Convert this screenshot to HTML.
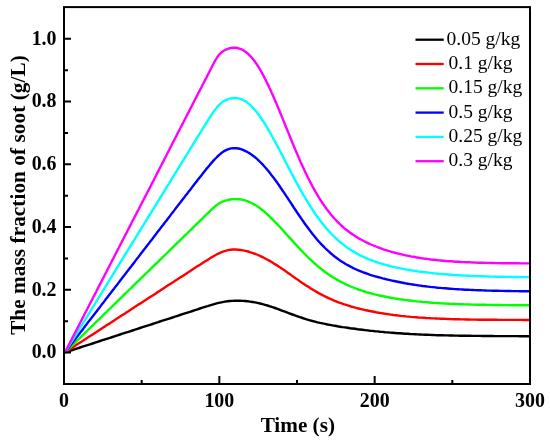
<!DOCTYPE html>
<html><head><meta charset="utf-8"><style>
html,body{margin:0;padding:0;background:#fff;}
body{width:550px;height:443px;overflow:hidden;}
svg{display:block;}
.t{font-family:"Liberation Serif","Times New Roman",serif;font-weight:bold;font-size:19.9px;fill:#000;}
.ti{font-family:"Liberation Serif","Times New Roman",serif;font-weight:bold;font-size:21.2px;fill:#000;}
.lg{font-family:"Liberation Serif","Times New Roman",serif;font-weight:normal;font-size:19.5px;fill:#000;}
</style></head><body>
<svg width="550" height="443" viewBox="0 0 550 443">

<g fill="none" stroke-width="2.4" stroke-linejoin="round" stroke-linecap="butt">
<path stroke="#000000" d="M65.0,352.4 67.5,351.6 70.0,350.8 72.5,350.0 75.0,349.2 77.5,348.3 80.0,347.5 82.5,346.7 85.0,345.9 87.5,345.1 90.0,344.3 92.5,343.5 95.0,342.7 97.5,341.8 100.0,341.0 102.5,340.2 105.0,339.4 107.5,338.6 110.0,337.8 112.5,337.0 115.0,336.2 117.5,335.3 120.0,334.5 122.5,333.7 125.0,332.9 127.5,332.1 130.0,331.3 132.5,330.5 135.0,329.7 137.5,328.8 140.0,328.0 142.5,327.2 145.0,326.4 147.5,325.6 150.0,324.8 152.5,324.0 155.0,323.2 157.5,322.3 160.0,321.5 162.5,320.7 165.0,319.9 167.5,319.1 170.0,318.3 172.5,317.5 175.0,316.7 177.5,315.8 180.0,315.0 182.5,314.2 185.0,313.4 187.5,312.6 190.0,311.8 192.5,311.0 195.0,310.2 197.5,309.4 200.0,308.5 202.5,307.7 205.0,306.9 207.5,306.2 210.0,305.4 212.5,304.6 215.0,303.9 217.5,303.2 220.0,302.6 222.5,302.1 225.0,301.6 227.5,301.3 230.0,301.0 232.5,300.9 235.0,300.8 237.5,300.7 240.0,300.8 242.5,300.9 245.0,301.0 247.5,301.3 250.0,301.6 252.5,302.0 255.0,302.4 257.5,302.9 260.0,303.5 262.5,304.1 265.0,304.8 267.5,305.5 270.0,306.3 272.5,307.1 275.0,308.0 277.5,308.9 280.0,309.8 282.5,310.8 285.0,311.7 287.5,312.7 290.0,313.6 292.5,314.5 295.0,315.4 297.5,316.3 300.0,317.2 302.5,318.0 305.0,318.8 307.5,319.6 310.0,320.3 312.5,321.0 315.0,321.6 317.5,322.3 320.0,322.9 322.5,323.4 325.0,323.9 327.5,324.5 330.0,324.9 332.5,325.4 335.0,325.8 337.5,326.3 340.0,326.7 342.5,327.1 345.0,327.4 347.5,327.8 350.0,328.2 352.5,328.5 355.0,328.8 357.5,329.2 360.0,329.5 362.5,329.8 365.0,330.1 367.5,330.4 370.0,330.7 372.5,330.9 375.0,331.2 377.5,331.4 380.0,331.7 382.5,331.9 385.0,332.2 387.5,332.4 390.0,332.6 392.5,332.8 395.0,333.0 397.5,333.2 400.0,333.3 402.5,333.5 405.0,333.7 407.5,333.8 410.0,334.0 412.5,334.1 415.0,334.2 417.5,334.4 420.0,334.5 422.5,334.6 425.0,334.7 427.5,334.8 430.0,334.9 432.5,335.0 435.0,335.1 437.5,335.2 440.0,335.2 442.5,335.3 445.0,335.4 447.5,335.4 450.0,335.5 452.5,335.5 455.0,335.6 457.5,335.6 460.0,335.7 462.5,335.7 465.0,335.8 467.5,335.8 470.0,335.8 472.5,335.9 475.0,335.9 477.5,335.9 480.0,335.9 482.5,336.0 485.0,336.0 487.5,336.0 490.0,336.0 492.5,336.0 495.0,336.1 497.5,336.1 500.0,336.1 502.5,336.1 505.0,336.1 507.5,336.1 510.0,336.1 512.5,336.1 515.0,336.1 517.5,336.1 520.0,336.2 522.5,336.2 525.0,336.2 527.5,336.2 530.0,336.2"/>
<path stroke="#FF0000" d="M65.0,352.4 67.2,350.9 69.5,349.5 71.7,348.0 74.0,346.6 76.2,345.1 78.5,343.6 80.7,342.2 83.0,340.7 85.2,339.2 87.5,337.8 89.7,336.3 92.0,334.9 94.2,333.4 96.5,331.9 98.7,330.5 101.0,329.0 103.2,327.5 105.5,326.1 107.7,324.6 110.0,323.2 112.2,321.7 114.5,320.2 116.7,318.8 119.0,317.3 121.2,315.8 123.5,314.4 125.7,312.9 128.0,311.5 130.2,310.0 132.5,308.5 134.7,307.1 137.0,305.6 139.2,304.1 141.5,302.7 143.7,301.2 146.0,299.8 148.2,298.3 150.5,296.8 152.7,295.4 155.0,293.9 157.2,292.4 159.5,291.0 161.7,289.5 164.0,288.1 166.2,286.6 168.5,285.1 170.7,283.7 173.0,282.2 175.2,280.7 177.5,279.3 179.7,277.8 182.0,276.4 184.2,274.9 186.5,273.4 188.7,272.0 191.0,270.5 193.2,269.1 195.5,267.6 197.7,266.1 200.0,264.7 202.2,263.3 204.5,261.8 206.7,260.4 209.0,259.0 211.2,257.6 213.5,256.3 215.7,255.0 218.0,253.8 220.5,252.6 223.0,251.6 225.5,250.8 228.0,250.1 230.5,249.7 233.0,249.5 235.5,249.5 238.0,249.7 240.5,250.0 243.0,250.4 245.5,250.9 248.0,251.5 250.5,252.3 253.0,253.1 255.5,254.0 258.0,255.0 260.5,256.1 263.0,257.3 265.2,258.5 267.5,259.7 269.7,260.9 272.0,262.3 274.2,263.7 276.5,265.1 278.7,266.6 281.0,268.1 283.2,269.6 285.5,271.1 287.7,272.7 290.0,274.3 292.2,275.9 294.5,277.5 296.7,279.1 299.0,280.6 301.2,282.2 303.5,283.7 305.7,285.2 308.0,286.6 310.2,288.1 312.5,289.5 314.7,290.8 317.0,292.1 319.2,293.4 321.5,294.6 323.7,295.7 326.0,296.9 328.5,298.1 331.0,299.2 333.5,300.3 336.0,301.3 338.5,302.3 341.0,303.2 343.5,304.1 346.0,304.9 348.5,305.7 351.0,306.5 353.5,307.2 356.0,307.9 358.5,308.5 361.0,309.1 363.5,309.7 366.0,310.3 368.5,310.8 371.0,311.3 373.5,311.8 376.0,312.3 378.5,312.7 381.0,313.1 383.5,313.5 386.0,313.9 388.5,314.3 391.0,314.6 393.5,315.0 396.0,315.3 398.5,315.6 401.0,315.9 403.5,316.1 406.0,316.4 408.5,316.6 411.0,316.9 413.5,317.1 416.0,317.3 418.5,317.5 421.0,317.6 423.5,317.8 426.0,318.0 428.5,318.1 431.0,318.3 433.5,318.4 436.0,318.5 438.5,318.6 441.0,318.7 443.5,318.8 446.0,318.9 448.5,319.0 451.0,319.1 453.5,319.2 456.0,319.2 458.5,319.3 461.0,319.4 463.5,319.4 466.0,319.5 468.5,319.5 471.0,319.6 473.5,319.6 476.0,319.6 478.5,319.7 481.0,319.7 483.5,319.7 486.0,319.8 488.5,319.8 491.0,319.8 493.5,319.8 496.0,319.8 498.5,319.9 501.0,319.9 503.5,319.9 506.0,319.9 508.5,319.9 511.0,319.9 513.5,319.9 516.0,319.9 518.5,319.9 521.0,319.9 523.5,320.0 526.0,320.0 528.5,320.0 530.0,320.0"/>
<path stroke="#00FF00" d="M65.0,352.4 67.0,350.4 69.0,348.5 71.0,346.5 73.0,344.6 75.0,342.6 77.0,340.7 79.0,338.8 81.0,336.8 83.0,334.9 85.0,332.9 87.0,331.0 89.0,329.0 91.0,327.1 93.0,325.1 95.0,323.2 97.0,321.2 99.0,319.3 101.0,317.3 103.0,315.4 105.0,313.4 107.0,311.5 109.0,309.5 111.0,307.6 113.0,305.6 115.0,303.7 117.0,301.7 119.0,299.8 121.0,297.8 123.0,295.9 125.0,293.9 127.0,292.0 129.0,290.0 131.0,288.1 133.0,286.1 135.0,284.2 137.0,282.2 139.0,280.3 141.0,278.3 143.0,276.4 145.0,274.4 147.0,272.5 149.0,270.6 151.0,268.6 153.0,266.7 155.0,264.7 157.0,262.8 159.0,260.8 161.0,258.9 163.0,256.9 165.0,255.0 167.0,253.0 169.0,251.1 171.0,249.1 173.0,247.1 175.0,245.2 177.0,243.2 179.0,241.3 181.0,239.3 183.0,237.4 185.0,235.4 187.0,233.5 189.0,231.5 191.0,229.6 193.0,227.6 195.0,225.7 197.0,223.7 199.0,221.8 201.0,219.8 203.0,217.9 205.0,215.9 207.0,214.0 209.0,212.1 211.0,210.2 213.0,208.3 215.0,206.5 217.0,204.9 219.2,203.3 221.5,202.1 224.0,201.0 226.5,200.3 229.0,199.7 231.5,199.3 234.0,199.1 236.5,199.1 239.0,199.2 241.5,199.6 244.0,200.1 246.5,200.9 249.0,201.8 251.5,203.0 253.7,204.2 256.0,205.5 258.2,207.0 260.5,208.6 262.5,210.2 264.5,211.8 266.5,213.6 268.5,215.4 270.5,217.3 272.5,219.3 274.5,221.3 276.2,223.1 278.0,225.0 279.7,226.8 281.5,228.7 283.2,230.7 285.0,232.6 286.7,234.5 288.5,236.5 290.2,238.4 292.0,240.4 293.7,242.3 295.5,244.2 297.2,246.1 299.0,248.0 300.7,249.9 302.5,251.7 304.2,253.5 306.2,255.5 308.2,257.5 310.2,259.4 312.2,261.2 314.2,263.0 316.2,264.8 318.2,266.5 320.2,268.1 322.2,269.7 324.2,271.3 326.5,272.9 328.7,274.5 331.0,276.0 333.2,277.4 335.5,278.8 337.7,280.1 340.0,281.4 342.2,282.5 344.5,283.7 347.0,284.9 349.5,286.0 352.0,287.0 354.5,288.0 357.0,289.0 359.5,289.9 362.0,290.7 364.5,291.5 367.0,292.3 369.5,293.0 372.0,293.6 374.5,294.3 377.0,294.9 379.5,295.5 382.0,296.0 384.5,296.5 387.0,297.0 389.5,297.5 392.0,298.0 394.5,298.4 397.0,298.8 399.5,299.2 402.0,299.5 404.5,299.9 407.0,300.2 409.5,300.5 412.0,300.8 414.5,301.1 417.0,301.4 419.5,301.6 422.0,301.9 424.5,302.1 427.0,302.3 429.5,302.5 432.0,302.7 434.5,302.9 437.0,303.0 439.5,303.2 442.0,303.4 444.5,303.5 447.0,303.6 449.5,303.8 452.0,303.9 454.5,304.0 457.0,304.1 459.5,304.2 462.0,304.3 464.5,304.4 467.0,304.4 469.5,304.5 472.0,304.6 474.5,304.6 477.0,304.7 479.5,304.7 482.0,304.8 484.5,304.8 487.0,304.9 489.5,304.9 492.0,305.0 494.5,305.0 497.0,305.0 499.5,305.0 502.0,305.1 504.5,305.1 507.0,305.1 509.5,305.1 512.0,305.2 514.5,305.2 517.0,305.2 519.5,305.2 522.0,305.2 524.5,305.2 527.0,305.2 529.5,305.2 530.0,305.2"/>
<path stroke="#0000FF" d="M65.0,352.4 66.7,350.1 68.5,347.9 70.2,345.6 72.0,343.3 73.7,341.0 75.5,338.8 77.2,336.5 79.0,334.2 80.7,331.9 82.5,329.7 84.2,327.4 86.0,325.1 87.7,322.8 89.5,320.6 91.2,318.3 93.0,316.0 94.7,313.7 96.5,311.5 98.2,309.2 100.0,306.9 101.7,304.6 103.5,302.4 105.2,300.1 107.0,297.8 108.7,295.5 110.5,293.3 112.2,291.0 114.0,288.7 115.7,286.4 117.5,284.2 119.2,281.9 121.0,279.6 122.7,277.3 124.5,275.1 126.2,272.8 128.0,270.5 129.7,268.2 131.5,266.0 133.2,263.7 135.0,261.4 136.7,259.1 138.5,256.9 140.2,254.6 142.0,252.3 143.7,250.0 145.5,247.8 147.2,245.5 149.0,243.2 150.7,240.9 152.5,238.7 154.2,236.4 156.0,234.1 157.7,231.8 159.5,229.6 161.2,227.3 163.0,225.0 164.7,222.7 166.5,220.5 168.2,218.2 170.0,215.9 171.7,213.6 173.5,211.4 175.2,209.1 177.0,206.8 178.7,204.5 180.5,202.3 182.2,200.0 184.0,197.7 185.7,195.4 187.5,193.2 189.2,190.9 191.0,188.7 192.7,186.4 194.5,184.1 196.2,181.9 198.0,179.6 199.7,177.4 201.5,175.2 203.2,173.0 205.0,170.8 206.7,168.6 208.5,166.5 210.2,164.4 212.0,162.4 213.7,160.4 215.5,158.5 217.5,156.5 219.5,154.7 221.5,153.0 223.7,151.4 226.0,150.1 228.5,149.1 231.0,148.4 233.5,148.1 236.0,148.2 238.5,148.5 241.0,149.2 243.5,150.1 246.0,151.3 248.2,152.5 250.5,153.9 252.7,155.5 254.7,157.0 256.7,158.7 258.7,160.6 260.7,162.5 262.5,164.3 264.2,166.2 266.0,168.2 267.7,170.3 269.5,172.4 271.2,174.7 273.0,176.9 274.5,179.0 276.0,181.0 277.5,183.1 279.0,185.3 280.5,187.5 282.0,189.7 283.5,191.9 285.0,194.1 286.5,196.4 288.0,198.7 289.5,200.9 291.0,203.2 292.5,205.5 294.0,207.8 295.5,210.0 297.0,212.3 298.5,214.5 300.0,216.7 301.5,218.9 303.0,221.0 304.5,223.2 306.0,225.3 307.5,227.3 309.0,229.3 310.7,231.6 312.5,233.9 314.2,236.0 316.0,238.2 317.7,240.2 319.5,242.2 321.2,244.1 323.0,245.9 325.0,248.0 327.0,249.9 329.0,251.7 331.0,253.5 333.0,255.2 335.0,256.8 337.0,258.3 339.2,259.9 341.5,261.4 343.7,262.8 346.0,264.2 348.2,265.4 350.5,266.6 352.7,267.8 355.2,269.0 357.7,270.1 360.2,271.1 362.7,272.1 365.2,273.0 367.7,273.9 370.2,274.8 372.7,275.6 375.2,276.3 377.7,277.0 380.2,277.7 382.7,278.4 385.2,279.0 387.7,279.6 390.2,280.2 392.7,280.8 395.2,281.3 397.7,281.8 400.2,282.3 402.7,282.8 405.2,283.3 407.7,283.7 410.2,284.1 412.7,284.5 415.2,284.9 417.7,285.3 420.2,285.6 422.7,286.0 425.2,286.3 427.7,286.6 430.2,286.9 432.7,287.1 435.2,287.4 437.7,287.7 440.2,287.9 442.7,288.1 445.2,288.3 447.7,288.5 450.2,288.7 452.7,288.9 455.2,289.1 457.7,289.2 460.2,289.4 462.7,289.5 465.2,289.7 467.7,289.8 470.2,289.9 472.7,290.0 475.2,290.1 477.7,290.2 480.2,290.3 482.7,290.4 485.2,290.5 487.7,290.6 490.2,290.6 492.7,290.7 495.2,290.7 497.7,290.8 500.2,290.9 502.7,290.9 505.2,291.0 507.7,291.0 510.2,291.0 512.7,291.1 515.2,291.1 517.7,291.1 520.2,291.2 522.7,291.2 525.2,291.2 527.7,291.2 530.0,291.3"/>
<path stroke="#00FFFF" d="M65.0,352.4 66.5,350.0 68.0,347.5 69.5,345.1 71.0,342.7 72.5,340.2 74.0,337.8 75.5,335.3 77.0,332.9 78.5,330.5 80.0,328.0 81.5,325.6 83.0,323.2 84.5,320.7 86.0,318.3 87.5,315.8 89.0,313.4 90.5,311.0 92.0,308.5 93.5,306.1 95.0,303.7 96.5,301.2 98.0,298.8 99.5,296.3 101.0,293.9 102.5,291.5 104.0,289.0 105.5,286.6 107.0,284.2 108.5,281.7 110.0,279.3 111.5,276.8 113.0,274.4 114.5,272.0 116.0,269.5 117.5,267.1 119.0,264.7 120.5,262.2 122.0,259.8 123.5,257.3 125.0,254.9 126.5,252.5 128.0,250.0 129.5,247.6 131.0,245.2 132.5,242.7 134.0,240.3 135.5,237.9 137.0,235.4 138.5,233.0 140.0,230.6 141.5,228.2 143.0,225.7 144.5,223.3 146.0,220.9 147.5,218.4 149.0,216.0 150.5,213.6 152.0,211.1 153.5,208.7 155.0,206.3 156.5,203.8 158.0,201.4 159.5,198.9 161.0,196.5 162.5,194.1 164.0,191.6 165.5,189.2 167.0,186.7 168.5,184.3 170.0,181.9 171.5,179.4 173.0,177.0 174.5,174.5 176.0,172.1 177.5,169.7 179.0,167.2 180.5,164.8 182.0,162.3 183.5,159.9 185.0,157.5 186.5,155.0 188.0,152.6 189.5,150.1 191.0,147.7 192.5,145.3 194.0,142.8 195.5,140.4 197.0,138.0 198.5,135.5 200.0,133.1 201.5,130.7 203.0,128.3 204.5,125.9 206.0,123.5 207.5,121.1 209.0,118.7 210.5,116.4 212.0,114.1 213.5,111.9 215.0,109.9 216.7,107.6 218.5,105.6 220.5,103.6 222.5,102.0 224.7,100.6 227.2,99.5 229.7,98.7 232.2,98.2 234.7,98.0 237.2,98.1 239.7,98.6 242.2,99.5 244.5,100.7 246.7,102.1 248.7,103.7 250.7,105.5 252.7,107.5 254.5,109.5 256.2,111.6 258.0,113.8 259.5,115.8 261.0,118.0 262.5,120.2 264.0,122.5 265.5,124.9 267.0,127.4 268.5,129.9 270.0,132.5 271.2,134.7 272.5,137.0 273.7,139.2 275.0,141.5 276.2,143.9 277.5,146.2 278.7,148.6 280.0,151.0 281.2,153.4 282.5,155.8 283.7,158.2 285.0,160.7 286.2,163.1 287.5,165.5 288.7,167.9 290.0,170.3 291.2,172.7 292.5,175.1 293.7,177.4 295.0,179.8 296.2,182.1 297.5,184.4 298.7,186.7 300.0,188.9 301.2,191.2 302.5,193.4 304.0,196.0 305.5,198.5 307.0,201.0 308.5,203.4 310.0,205.8 311.5,208.2 313.0,210.5 314.5,212.7 316.0,214.9 317.5,217.0 319.0,219.0 320.7,221.3 322.5,223.6 324.2,225.8 326.0,227.9 327.7,229.9 329.5,231.8 331.2,233.7 333.0,235.5 335.0,237.4 337.0,239.3 339.0,241.1 341.0,242.8 343.0,244.4 345.0,245.9 347.2,247.6 349.5,249.1 351.7,250.6 354.0,251.9 356.2,253.2 358.5,254.5 360.7,255.6 363.0,256.7 365.5,257.8 368.0,258.9 370.5,259.9 373.0,260.9 375.5,261.8 378.0,262.6 380.5,263.4 383.0,264.2 385.5,264.9 388.0,265.5 390.5,266.2 393.0,266.8 395.5,267.3 398.0,267.9 400.5,268.4 403.0,268.9 405.5,269.4 408.0,269.8 410.5,270.2 413.0,270.6 415.5,271.0 418.0,271.4 420.5,271.7 423.0,272.0 425.5,272.3 428.0,272.6 430.5,272.9 433.0,273.2 435.5,273.4 438.0,273.7 440.5,273.9 443.0,274.1 445.5,274.3 448.0,274.5 450.5,274.7 453.0,274.9 455.5,275.1 458.0,275.2 460.5,275.4 463.0,275.5 465.5,275.6 468.0,275.7 470.5,275.9 473.0,276.0 475.5,276.1 478.0,276.2 480.5,276.3 483.0,276.3 485.5,276.4 488.0,276.5 490.5,276.6 493.0,276.6 495.5,276.7 498.0,276.7 500.5,276.8 503.0,276.8 505.5,276.9 508.0,276.9 510.5,276.9 513.0,277.0 515.5,277.0 518.0,277.0 520.5,277.1 523.0,277.1 525.5,277.1 528.0,277.1 530.0,277.2"/>
<path stroke="#FF00FF" d="M64.9,352.4 66.2,350.0 67.4,347.5 68.7,345.1 69.9,342.7 71.2,340.3 72.4,337.8 73.7,335.4 74.9,333.0 76.2,330.5 77.4,328.1 78.7,325.7 79.9,323.3 81.2,320.8 82.4,318.4 83.7,316.0 84.9,313.5 86.2,311.1 87.4,308.7 88.7,306.3 89.9,303.8 91.2,301.4 92.4,299.0 93.7,296.5 94.9,294.1 96.2,291.7 97.4,289.3 98.7,286.8 99.9,284.4 101.2,282.0 102.4,279.5 103.7,277.1 104.9,274.7 106.2,272.3 107.4,269.8 108.7,267.4 109.9,265.0 111.2,262.5 112.4,260.1 113.7,257.7 114.9,255.3 116.2,252.8 117.4,250.4 118.7,248.0 119.9,245.5 121.2,243.1 122.4,240.7 123.7,238.2 124.9,235.8 126.2,233.4 127.4,231.0 128.7,228.5 129.9,226.1 131.2,223.7 132.4,221.3 133.7,218.8 134.9,216.4 136.2,214.0 137.4,211.6 138.7,209.2 139.9,206.7 141.2,204.3 142.4,201.9 143.7,199.5 144.9,197.1 146.2,194.7 147.4,192.3 148.7,189.9 149.9,187.5 151.2,185.0 152.4,182.6 153.7,180.2 154.9,177.7 156.2,175.3 157.4,172.9 158.7,170.4 159.9,168.0 161.2,165.5 162.4,163.1 163.7,160.6 164.9,158.2 166.2,155.7 167.4,153.3 168.7,150.9 169.9,148.4 171.2,146.0 172.4,143.5 173.7,141.1 174.9,138.7 176.2,136.3 177.4,133.8 178.7,131.4 179.9,129.0 181.2,126.5 182.4,124.1 183.7,121.7 184.9,119.2 186.2,116.8 187.4,114.4 188.7,112.0 189.9,109.5 191.2,107.1 192.4,104.7 193.7,102.2 194.9,99.8 196.2,97.4 197.4,95.0 198.7,92.5 199.9,90.1 201.2,87.7 202.4,85.2 203.7,82.8 204.9,80.4 206.2,78.0 207.4,75.5 208.7,73.1 209.9,70.7 211.2,68.3 212.4,65.9 213.7,63.5 214.9,61.2 216.2,58.9 217.7,56.6 219.4,54.3 221.4,52.4 223.7,50.8 225.9,49.6 228.4,48.6 230.9,48.0 233.4,47.7 235.9,47.8 238.4,48.3 240.9,49.1 243.2,50.2 245.4,51.7 247.4,53.2 249.4,55.1 251.2,57.0 252.9,59.1 254.7,61.3 256.2,63.5 257.7,65.7 259.2,68.1 260.7,70.6 261.9,72.8 263.2,75.1 264.4,77.5 265.7,80.0 266.9,82.5 268.2,85.1 269.4,87.8 270.7,90.5 271.9,93.3 273.2,96.1 274.2,98.4 275.2,100.7 276.2,103.1 277.2,105.5 278.2,107.9 279.2,110.3 280.2,112.7 281.2,115.1 282.2,117.6 283.2,120.1 284.2,122.5 285.2,125.0 286.2,127.5 287.2,129.9 288.2,132.4 289.2,134.8 290.2,137.3 291.2,139.7 292.2,142.2 293.2,144.6 294.2,147.0 295.2,149.4 296.2,151.7 297.2,154.0 298.2,156.4 299.2,158.7 300.4,161.5 301.7,164.3 302.9,167.0 304.2,169.7 305.4,172.4 306.7,175.0 307.9,177.5 309.2,180.0 310.4,182.4 311.7,184.8 312.9,187.2 314.2,189.4 315.4,191.6 316.9,194.2 318.4,196.7 319.9,199.1 321.4,201.5 322.9,203.7 324.4,205.9 325.9,208.0 327.4,210.1 329.2,212.3 330.9,214.5 332.7,216.6 334.4,218.5 336.2,220.4 337.9,222.2 339.9,224.2 341.9,226.0 343.9,227.8 345.9,229.5 347.9,231.0 350.2,232.7 352.4,234.3 354.7,235.8 356.9,237.2 359.2,238.6 361.4,239.8 363.7,241.0 365.9,242.1 368.4,243.3 370.9,244.5 373.4,245.5 375.9,246.5 378.4,247.5 380.9,248.4 383.4,249.3 385.9,250.1 388.4,250.9 390.9,251.6 393.4,252.3 395.9,253.0 398.4,253.6 400.9,254.2 403.4,254.8 405.9,255.4 408.4,255.9 410.9,256.4 413.4,256.8 415.9,257.3 418.4,257.7 420.9,258.1 423.4,258.5 425.9,258.8 428.4,259.1 430.9,259.5 433.4,259.7 435.9,260.0 438.4,260.3 440.9,260.5 443.4,260.7 445.9,261.0 448.4,261.2 450.9,261.3 453.4,261.5 455.9,261.7 458.4,261.8 460.9,262.0 463.4,262.1 465.9,262.2 468.4,262.3 470.9,262.4 473.4,262.5 475.9,262.6 478.4,262.7 480.9,262.8 483.4,262.8 485.9,262.9 488.4,262.9 490.9,263.0 493.4,263.0 495.9,263.1 498.4,263.1 500.9,263.2 503.4,263.2 505.9,263.2 508.4,263.3 510.9,263.3 513.4,263.3 515.9,263.3 518.4,263.3 520.9,263.4 523.4,263.4 525.9,263.4 528.4,263.4 529.9,263.4"/>
</g>
<rect x="64" y="7.1" width="466" height="376.9" fill="none" stroke="#000" stroke-width="2"/>
<path d="M64,352.50h7.0 M64,321.13h4.0 M64,289.76h7.0 M64,258.39h4.0 M64,227.02h7.0 M64,195.65h4.0 M64,164.28h7.0 M64,132.91h4.0 M64,101.54h7.0 M64,70.17h4.0 M64,38.80h7.0 M141.67,384v-4.0 M219.33,384v-8.0 M297.00,384v-4.0 M374.67,384v-8.0 M452.33,384v-4.0" stroke="#000" stroke-width="2" fill="none"/>
<text class="t" x="56.5" y="358.30" text-anchor="end">0.0</text>
<text class="t" x="56.5" y="295.56" text-anchor="end">0.2</text>
<text class="t" x="56.5" y="232.82" text-anchor="end">0.4</text>
<text class="t" x="56.5" y="170.08" text-anchor="end">0.6</text>
<text class="t" x="56.5" y="107.34" text-anchor="end">0.8</text>
<text class="t" x="56.5" y="44.60" text-anchor="end">1.0</text>
<text class="t" x="64.00" y="407.1" text-anchor="middle">0</text>
<text class="t" x="219.33" y="407.1" text-anchor="middle">100</text>
<text class="t" x="374.67" y="407.1" text-anchor="middle">200</text>
<text class="t" x="530.00" y="407.1" text-anchor="middle">300</text>
<text class="ti" x="297.8" y="431.9" text-anchor="middle">Time (s)</text>
<text class="ti" transform="translate(25.2,195.05) rotate(-90)" text-anchor="middle" textLength="279.6" lengthAdjust="spacing">The mass fraction of soot (g/L)</text>
<line x1="415.5" x2="443.7" y1="39.70" y2="39.70" stroke="#000000" stroke-width="2.3"/>
<text class="lg" x="446.5" y="44.70">0.05 g/kg</text>
<line x1="415.5" x2="443.7" y1="64.00" y2="64.00" stroke="#FF0000" stroke-width="2.3"/>
<text class="lg" x="448.5" y="69.00">0.1 g/kg</text>
<line x1="415.5" x2="443.7" y1="88.30" y2="88.30" stroke="#00FF00" stroke-width="2.3"/>
<text class="lg" x="448.5" y="93.30">0.15 g/kg</text>
<line x1="415.5" x2="443.7" y1="112.60" y2="112.60" stroke="#0000FF" stroke-width="2.3"/>
<text class="lg" x="448.5" y="117.60">0.5 g/kg</text>
<line x1="415.5" x2="443.7" y1="136.90" y2="136.90" stroke="#00FFFF" stroke-width="2.3"/>
<text class="lg" x="448.5" y="141.90">0.25 g/kg</text>
<line x1="415.5" x2="443.7" y1="161.20" y2="161.20" stroke="#FF00FF" stroke-width="2.3"/>
<text class="lg" x="448.5" y="166.20">0.3 g/kg</text>
</svg>
</body></html>
